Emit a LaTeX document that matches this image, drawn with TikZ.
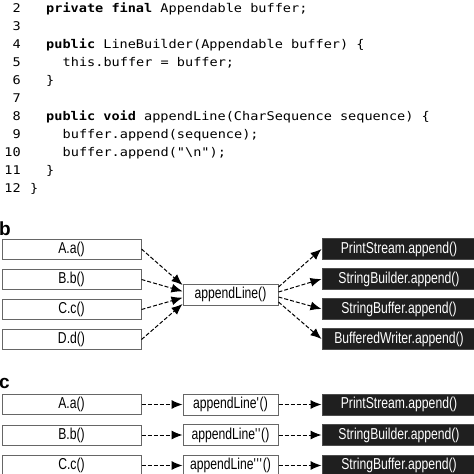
\documentclass[tikz,border=0pt]{standalone}
\usepackage{fontspec}
\usetikzlibrary{arrows.meta}
\newfontfamily\codefont[FakeStretch=1.13]{DejaVu Sans Mono}
\newfontfamily\boxfont[FakeStretch=0.77]{Liberation Sans}
\newfontfamily\labfont{Liberation Sans}
\newcommand{\qq}{\textquotesingle}
\tikzset{
  codeline/.style={anchor=base west, inner sep=0pt, font=\codefont\fontsize{12}{12}\selectfont},
  numline/.style={anchor=base east, inner sep=0pt, font=\codefont\fontsize{12}{12}\selectfont},
  boxbase/.style={line width=1pt, inner sep=0pt, minimum height=20pt, font=\boxfont\fontsize{15.8}{15.8}\selectfont},
  lbox/.style={boxbase, draw=black!60, fill=white, minimum width=139pt},
  mbox/.style={boxbase, draw=black!60, fill=white, minimum width=95pt, minimum height=21pt},
  dbox/.style={boxbase, draw=black!70, fill=black!88, text=white, minimum width=154pt, minimum height=21pt},
  arr/.style={dashed, dash pattern=on 4pt off 2pt, line width=1pt, -{Latex[length=11pt,width=9pt]}},
  panel/.style={anchor=base west, inner sep=0pt, font=\labfont\bfseries\fontsize{19}{19}\selectfont}
}
\begin{document}
\begin{tikzpicture}[x=1pt,y=-1pt]
\useasboundingbox (0,0) rectangle (474,474);
\fill[white] (0,0) rectangle (474,474);
% code
\foreach \n [count=\i from 0] in {2,3,4,5,6,7,8,9,10,11,12}
  \node[numline] (n\n) at (21,12.7+18*\i) {\n};
\node[codeline] (c2) at (46,12.7) {\textbf{private final} Appendable buffer;};
\node[codeline] (c4) at (46,48.7) {\textbf{public} LineBuilder(Appendable buffer) \{};
\node[codeline] (c5) at (62.5,66.7) {this.buffer = buffer;};
\node[codeline] (c6) at (46,84.7) {\}};
\node[codeline] (c8) at (46,120.7) {\textbf{public void} appendLine(CharSequence sequence) \{};
\node[codeline] (c9) at (62.5,138.7) {buffer.append(sequence);};
\node[codeline] (c10) at (62.5,156.7) {buffer.append("\textbackslash n");};
\node[codeline] (c11) at (46,174.7) {\}};
\node[codeline] (c12) at (30,192.7) {\}};
% panel b
\node[panel] (lb) at (-1,235) {b};
\node[lbox] (ba) at (71.5,249) {A.a()};
\node[lbox] (bb) at (71.5,279.5) {B.b()};
\node[lbox] (bc) at (71.5,309.5) {C.c()};
\node[lbox] (bd) at (71.5,339.5) {D.d()};
\node[mbox] (bm) at (230.5,294.5) {appendLine()};
\node[dbox] (bp) at (399,249) {PrintStream.append()};
\node[dbox] (bs) at (399,279) {StringBuilder.append()};
\node[dbox] (bf) at (399,309) {StringBuffer.append()};
\node[dbox] (bw) at (399,339) {BufferedWriter.append()};
\draw[arr] (ba.east) -- ([yshift=9.5pt]bm.west);
\draw[arr] (bb.east) -- ([yshift=3.2pt]bm.west);
\draw[arr] (bc.east) -- ([yshift=-3.2pt]bm.west);
\draw[arr] (bd.east) -- ([yshift=-9.5pt]bm.west);
\draw[arr] ([yshift=7.5pt]bm.east) -- (bp.west);
\draw[arr] ([yshift=2.5pt]bm.east) -- (bs.west);
\draw[arr] ([yshift=-2.5pt]bm.east) -- (bf.west);
\draw[arr] ([yshift=-7.5pt]bm.east) -- (bw.west);
% panel c
\node[panel] (lc) at (-1,388) {c};
\node[lbox] (ca) at (71.5,404.5) {A.a()};
\node[lbox] (cb) at (71.5,435) {B.b()};
\node[lbox] (cc) at (71.5,465.5) {C.c()};
\node[mbox] (cm1) at (230.5,404.5) {appendLine\qq()};
\node[mbox] (cm2) at (230.5,435) {appendLine\qq\qq()};
\node[mbox] (cm3) at (230.5,465.5) {appendLine\qq\qq\qq()};
\node[dbox] (cp) at (399,404.5) {PrintStream.append()};
\node[dbox] (cs) at (399,435) {StringBuilder.append()};
\node[dbox] (cf) at (399,465.5) {StringBuffer.append()};
\draw[arr] (ca) -- (cm1);
\draw[arr] (cb) -- (cm2);
\draw[arr] (cc) -- (cm3);
\draw[arr] (cm1) -- (cp);
\draw[arr] (cm2) -- (cs);
\draw[arr] (cm3) -- (cf);
\end{tikzpicture}
\end{document}
